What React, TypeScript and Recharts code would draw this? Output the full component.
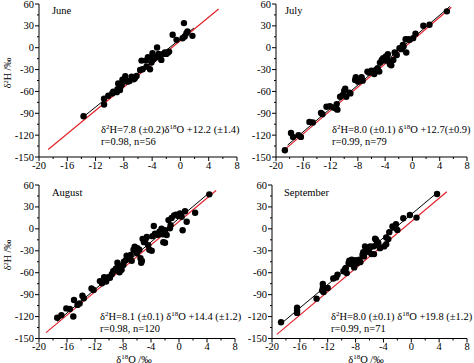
import { ComposedChart, Scatter, Line, XAxis, YAxis } from 'recharts'

const W = 474
const H = 363
const FONT = "'Liberation Serif', 'Times New Roman', serif"
const RED = '#e3232c'

// axis ticks
const xMajor = [-20, -16, -12, -8, -4, 0, 4, 8]
const xMinor = [-18, -14, -10, -6, -2, 2, 6]
const yMajor = [-150, -120, -90, -60, -30, 0, 30, 60]
const yMinor = [-135, -105, -75, -45, -15, 15, 45]

const months = ['June', 'July', 'August', 'September']
const slopeText = ['7.8 (±0.2)', '8.0 (±0.1) ', '8.1 (±0.1) ', '8.0 (±0.1) ']
const interceptText = ['O +12.2 (±1.4)', 'O +12.7(±0.9)', 'O +14.4 (±1.2)', 'O +19.8 (±1.2)']
const statText = ['r=0.98, n=56', 'r=0.99, n=79', 'r=0.98, n=120', 'r=0.99, n=71']

type Pt = { x: number; y: number }

const junePts: Pt[] = [
  { x: -13.7, y: -94 }, { x: -10.8, y: -70 }, { x: -10.8, y: -78 }, { x: -10.2, y: -66 },
  { x: -9.65, y: -62.7 }, { x: -9.5, y: -60.4 }, { x: -9.0, y: -61 }, { x: -8.9, y: -57 },
  { x: -8.8, y: -49 }, { x: -8.55, y: -58 }, { x: -8.5, y: -54 }, { x: -8.3, y: -51 },
  { x: -8.2, y: -44 }, { x: -8.0, y: -43.4 }, { x: -7.8, y: -39 }, { x: -7.5, y: -46.6 },
  { x: -7.2, y: -45.7 }, { x: -6.9, y: -39.7 }, { x: -6.6, y: -43.4 }, { x: -6.45, y: -42 },
  { x: -6.2, y: -38.8 }, { x: -5.7, y: -30.5 }, { x: -5.5, y: -17.7 }, { x: -5.35, y: -29.6 },
  { x: -4.9, y: -17.7 }, { x: -4.8, y: -26 }, { x: -4.6, y: -13 }, { x: -4.3, y: -29.6 },
  { x: -4.1, y: -20.4 }, { x: -3.95, y: -7.5 }, { x: -3.9, y: -14.3 }, { x: -3.8, y: -15.8 },
  { x: -3.4, y: -13 }, { x: -3.3, y: 0.3 }, { x: -3.1, y: -8.5 }, { x: -2.9, y: -11.2 },
  { x: -2.7, y: -16.7 }, { x: -2.45, y: -8.5 }, { x: -2.2, y: -6.6 }, { x: -2.0, y: -8.5 },
  { x: -1.75, y: -6.6 }, { x: -1.6, y: -5.3 }, { x: -1.1, y: 17.7 }, { x: -0.55, y: 10.8 },
  { x: 0.3, y: 13 }, { x: 0.5, y: 33.8 }, { x: 0.6, y: 15.4 }, { x: 0.85, y: 20 },
  { x: 1.0, y: 22.3 }, { x: 1.7, y: 16.3 },
]

const julyPts: Pt[] = [
  { x: -18.7, y: -140.8 }, { x: -17.8, y: -117 }, { x: -17.5, y: -122.4 }, { x: -16.7, y: -120 },
  { x: -16.35, y: -122.4 }, { x: -15.1, y: -101.8 }, { x: -14.6, y: -102.7 }, { x: -13.4, y: -89.4 },
  { x: -13.2, y: -91.2 }, { x: -12.6, y: -81 }, { x: -12.1, y: -80.2 }, { x: -11.6, y: -82 },
  { x: -11.2, y: -83.4 }, { x: -11.1, y: -77.4 }, { x: -11.0, y: -85 }, { x: -10.6, y: -67.3 },
  { x: -10.2, y: -65 }, { x: -10.0, y: -59 }, { x: -9.85, y: -56.3 }, { x: -9.7, y: -67.3 },
  { x: -9.2, y: -61.8 }, { x: -9.1, y: -62.7 }, { x: -8.4, y: -44.3 }, { x: -8.3, y: -40.6 },
  { x: -7.95, y: -46.6 }, { x: -7.45, y: -40.6 }, { x: -7.3, y: -45.2 }, { x: -6.6, y: -32.8 },
  { x: -6.35, y: -34.2 }, { x: -6.0, y: -31.4 }, { x: -5.6, y: -36 }, { x: -5.35, y: -30.5 },
  { x: -5.1, y: -28.2 }, { x: -4.86, y: -32.8 }, { x: -4.76, y: -20.4 }, { x: -4.5, y: -16.7 },
  { x: -4.3, y: -14.4 }, { x: -4.0, y: -17.7 }, { x: -3.9, y: -12.1 }, { x: -3.7, y: -15.8 },
  { x: -3.6, y: -8.9 }, { x: -3.4, y: -19 }, { x: -3.3, y: -22.7 }, { x: -3.1, y: -24.1 },
  { x: -2.8, y: -16.7 }, { x: -2.6, y: -6.6 }, { x: -2.3, y: -9.9 }, { x: -1.9, y: -0.7 },
  { x: -1.6, y: -2.0 }, { x: -1.4, y: 3.9 }, { x: -1.3, y: 1.6 }, { x: -1.0, y: 11.7 },
  { x: -0.9, y: -6.6 }, { x: -0.6, y: 11.7 }, { x: -0.4, y: 10.8 }, { x: 0.1, y: 13.1 },
  { x: 0.45, y: 19.1 }, { x: 1.6, y: 30.1 }, { x: 2.5, y: 31.5 }, { x: 5.05, y: 49.9 },
]

const augPts: Pt[] = [
  { x: -17.4, y: -121.7 }, { x: -16.8, y: -118 }, { x: -16.1, y: -108.8 }, { x: -15.6, y: -109.6 },
  { x: -15.1, y: -120 }, { x: -15.0, y: -97.3 }, { x: -14.5, y: -104 }, { x: -14.2, y: -102 },
  { x: -13.8, y: -91.6 }, { x: -13.6, y: -95 }, { x: -12.5, y: -81.5 }, { x: -12.2, y: -83.6 },
  { x: -11.3, y: -71.5 }, { x: -11.0, y: -74.5 }, { x: -10.7, y: -66 }, { x: -10.4, y: -72 },
  { x: -10.1, y: -66 }, { x: -9.86, y: -67 }, { x: -9.6, y: -62.2 }, { x: -9.4, y: -58 },
  { x: -9.2, y: -57 }, { x: -9.0, y: -54 }, { x: -8.8, y: -46.4 }, { x: -8.6, y: -50 },
  { x: -8.5, y: -59.5 }, { x: -8.4, y: -51.6 }, { x: -8.2, y: -56 }, { x: -7.95, y: -49.4 },
  { x: -7.86, y: -44.8 }, { x: -7.57, y: -42.5 }, { x: -7.48, y: -36.6 }, { x: -7.1, y: -40.3 },
  { x: -7.0, y: -38 }, { x: -6.9, y: -35.6 }, { x: -6.76, y: -43.8 }, { x: -6.5, y: -28.6 },
  { x: -6.33, y: -24.5 }, { x: -6.2, y: -30 }, { x: -6.0, y: -33.4 }, { x: -5.95, y: -26.5 },
  { x: -5.67, y: -28.6 }, { x: -5.5, y: -40.3 }, { x: -5.4, y: -46.4 }, { x: -5.3, y: -43.8 },
  { x: -5.2, y: -13.7 }, { x: -5.0, y: -18.2 }, { x: -4.8, y: -15 }, { x: -4.6, y: -11.2 },
  { x: -4.4, y: -22.4 }, { x: -4.24, y: -28.6 }, { x: -3.9, y: -30 }, { x: -3.8, y: -10 },
  { x: -3.6, y: 3.9 }, { x: -3.43, y: -6.6 }, { x: -3.2, y: -7.5 }, { x: -3.0, y: -8 },
  { x: -2.8, y: -3.9 }, { x: -2.7, y: -6 }, { x: -2.5, y: 0.3 }, { x: -2.3, y: -7.5 },
  { x: -2.24, y: -18.2 }, { x: -2.0, y: -19 }, { x: -2.0, y: -2 }, { x: -1.76, y: -8.4 },
  { x: -1.5, y: 12 }, { x: -1.3, y: 0.7 }, { x: -1.2, y: 5 }, { x: -1.05, y: 15 },
  { x: -0.7, y: 18.5 }, { x: -0.43, y: 19.5 }, { x: -0.1, y: 17.7 }, { x: 0.14, y: 21 },
  { x: 0.38, y: 16.4 }, { x: 0.52, y: -2 }, { x: 0.86, y: 24 }, { x: 1.1, y: 9.8 },
  { x: 2.3, y: 22 }, { x: 4.33, y: 47.2 },
]

const sepPts: Pt[] = [
  { x: -18.7, y: -127.7 }, { x: -16.4, y: -108 }, { x: -16.4, y: -111.8 }, { x: -16.4, y: -115 },
  { x: -13.6, y: -95.5 }, { x: -12.8, y: -84.5 }, { x: -12.7, y: -75.5 }, { x: -12.7, y: -81 },
  { x: -12.6, y: -86.4 }, { x: -12.0, y: -81 }, { x: -11.2, y: -68 }, { x: -10.8, y: -66.4 },
  { x: -10.6, y: -62.7 }, { x: -9.74, y: -58 }, { x: -9.5, y: -55 }, { x: -9.4, y: -53.6 },
  { x: -9.27, y: -60.5 }, { x: -9.0, y: -46.8 }, { x: -8.9, y: -43.6 }, { x: -8.7, y: -48 },
  { x: -8.55, y: -42.3 }, { x: -8.4, y: -45.5 }, { x: -8.2, y: -52.7 }, { x: -8.0, y: -43 },
  { x: -7.8, y: -47 }, { x: -7.45, y: -42.3 }, { x: -7.3, y: -45.5 }, { x: -7.0, y: -35.5 },
  { x: -6.9, y: -32 }, { x: -6.8, y: -37.7 }, { x: -6.64, y: -24 }, { x: -6.5, y: -30 },
  { x: -6.3, y: -27.3 }, { x: -6.16, y: -31.8 }, { x: -6.0, y: -26.4 }, { x: -5.9, y: -24 },
  { x: -5.7, y: -34.5 }, { x: -5.45, y: -24 }, { x: -5.35, y: -34.5 }, { x: -5.2, y: -13.6 },
  { x: -5.07, y: -15 }, { x: -5.0, y: -22.3 }, { x: -4.9, y: -18 }, { x: -4.73, y: -19.5 },
  { x: -4.5, y: -26.4 }, { x: -3.9, y: -24 }, { x: -3.6, y: -21 }, { x: -3.6, y: -11.8 },
  { x: -3.3, y: -14 }, { x: -3.16, y: -4.5 }, { x: -2.7, y: 3.2 }, { x: -2.5, y: 1.8 },
  { x: -2.2, y: 6.4 }, { x: -2.0, y: -1.4 }, { x: -1.15, y: 14.5 }, { x: -0.2, y: 19 },
  { x: 0.75, y: 15.4 }, { x: 3.7, y: 47.7 },
]

// fitted lines (black) and GMWL (red), endpoints
const juneFit: Pt[] = [{ x: -13.7, y: -94.7 }, { x: 1.9, y: 27.0 }]
const julyFit: Pt[] = [{ x: -18.3, y: -133.7 }, { x: 5.5, y: 56.7 }]
const augFit: Pt[] = [{ x: -17.4, y: -126.5 }, { x: 4.4, y: 50 }]
const sepFit: Pt[] = [{ x: -18.7, y: -129.8 }, { x: 3.7, y: 49.4 }]

const juneGmwl: Pt[] = [{ x: -18.7, y: -139.6 }, { x: 5.4, y: 53.2 }]
const julyGmwl: Pt[] = [{ x: -18.6, y: -138.8 }, { x: 5.7, y: 55.6 }]
const augGmwl: Pt[] = [{ x: -19.0, y: -142 }, { x: 5.3, y: 52.4 }]
const sepGmwl: Pt[] = [{ x: -19.3, y: -144.4 }, { x: 5.1, y: 50.8 }]

const xTicks = [...xMajor, ...xMinor].sort((a, b) => a - b)
const yTicks = [...yMajor, ...yMinor].sort((a, b) => a - b)

// plot area boxes in page pixels
const boxes = [
  { left: 39, right: 237, top: 4, bottom: 157 },
  { left: 276, right: 467, top: 4, bottom: 157 },
  { left: 39, right: 235, top: 185, bottom: 338.5 },
  { left: 272, right: 467, top: 185, bottom: 338.5 },
]
const Y_AXIS_W = 30
const X_AXIS_H = 18

function XTick({ x, y, payload }: any) {
  const major = xMajor.includes(payload.value)
  return (
    <g>
      <line x1={x} x2={x} y1={y} y2={y + (major ? 4 : 2)} stroke="#000" />
      {major && (
        <text x={x} y={y + 11.5} textAnchor="middle" fontSize={10.5} fontFamily={FONT} fill="#000">
          {payload.value}
        </text>
      )}
    </g>
  )
}

function YTick({ x, y, payload }: any) {
  const major = yMajor.includes(payload.value)
  return (
    <g>
      <line x1={x} x2={x - (major ? 4 : 2)} y1={y} y2={y} stroke="#000" />
      {major && (
        <text x={x - 5} y={y + 3.5} textAnchor="end" fontSize={10.5} fontFamily={FONT} fill="#000">
          {payload.value}
        </text>
      )}
    </g>
  )
}

const dot = (p: any) => <circle cx={p.cx} cy={p.cy} r={3.2} fill="#000" />

function Panel({ i, points, fit, gmwl }: { i: number; points: Pt[]; fit: Pt[]; gmwl: Pt[] }) {
  const b = boxes[i]
  const margin = {
    left: b.left - Y_AXIS_W,
    right: W - b.right,
    top: b.top,
    bottom: H - b.bottom - X_AXIS_H,
  }
  return (
    <div style={{ position: 'absolute', left: 0, top: 0 }}>
      <ComposedChart width={W} height={H} margin={margin}>
        <XAxis
          type="number"
          dataKey="x"
          domain={[-20, 8]}
          ticks={xTicks}
          interval={0}
          height={X_AXIS_H}
          tickSize={0}
          tickMargin={0}
          tickLine={false}
          axisLine={{ stroke: '#000' }}
          tick={(p: any) => <XTick {...p} />}
          allowDataOverflow
        />
        <YAxis
          type="number"
          dataKey="y"
          domain={[-150, 60]}
          ticks={yTicks}
          interval={0}
          width={Y_AXIS_W}
          tickSize={0}
          tickMargin={0}
          tickLine={false}
          axisLine={{ stroke: '#000' }}
          tick={(p: any) => <YTick {...p} />}
          allowDataOverflow
        />
        <Line data={gmwl} dataKey="y" type="linear" stroke={RED} strokeWidth={1.2} dot={false} isAnimationActive={false} />
        <Line data={fit} dataKey="y" type="linear" stroke="#000" strokeWidth={1} dot={false} isAnimationActive={false} />
        <Scatter data={points} fill="#000" shape={dot} isAnimationActive={false} />
      </ComposedChart>
    </div>
  )
}

const textStyle = { fontFamily: FONT, fontSize: 10.5, fill: '#000' }

function Annotations() {
  const monthPos = [
    { x: 52, y: 14 },
    { x: 285, y: 14 },
    { x: 52, y: 196 },
    { x: 284, y: 196 },
  ]
  const eqPos = [
    { x: 101, y: 133 },
    { x: 332, y: 133 },
    { x: 100, y: 320 },
    { x: 331, y: 320 },
  ]
  return (
    <svg width={W} height={H} style={{ position: 'absolute', left: 0, top: 0 }}>
      {months.map((m, i) => (
        <text key={m} x={monthPos[i].x} y={monthPos[i].y} style={textStyle}>
          {m}
        </text>
      ))}
      {eqPos.map((p, i) => (
        <g key={i}>
          <text x={p.x} y={p.y} style={textStyle}>
            δ<tspan dy={-4} fontSize={7}>2</tspan>
            <tspan dy={4}>H={slopeText[i]}δ</tspan>
            <tspan dy={-4} fontSize={7}>18</tspan>
            <tspan dy={4}>{interceptText[i]}</tspan>
          </text>
          <text x={p.x} y={p.y + 12} style={textStyle}>
            {statText[i]}
          </text>
        </g>
      ))}
      {[73, 255].map((cy) => (
        <text key={cy} transform={`rotate(-90 11 ${cy})`} x={11} y={cy} textAnchor="middle" style={{ ...textStyle, fontSize: 10 }}>
          δ<tspan dy={-3.5} fontSize={7}>2</tspan>
          <tspan dy={3.5}>H /‰</tspan>
        </text>
      ))}
      {[134, 366].map((cx) => (
        <text key={cx} x={cx} y={362.5} textAnchor="middle" style={textStyle}>
          δ<tspan dy={-3.5} fontSize={7}>18</tspan>
          <tspan dy={3.5}>O /‰</tspan>
        </text>
      ))}
    </svg>
  )
}

export default function App() {
  return (
    <div style={{ position: 'absolute', left: 0, top: 0, width: W, height: H, background: '#fff' }}>
      <Panel i={0} points={junePts} fit={juneFit} gmwl={juneGmwl} />
      <Panel i={1} points={julyPts} fit={julyFit} gmwl={julyGmwl} />
      <Panel i={2} points={augPts} fit={augFit} gmwl={augGmwl} />
      <Panel i={3} points={sepPts} fit={sepFit} gmwl={sepGmwl} />
      <Annotations />
    </div>
  )
}
